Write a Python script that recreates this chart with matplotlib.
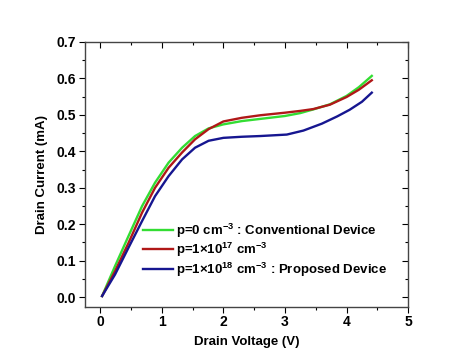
import matplotlib
matplotlib.use("Agg")
import matplotlib.pyplot as plt
from matplotlib.ticker import MultipleLocator

# ============================================
# Data
# ============================================

green_v = [0.03, 0.24, 0.46, 0.68, 0.89, 1.11, 1.33, 1.54, 1.76, 2.00, 2.30, 2.60, 3.00, 3.25, 3.46, 3.73, 4.00, 4.20, 4.41]
green_i = [0.003, 0.085, 0.168, 0.250, 0.314, 0.369, 0.410, 0.442, 0.463, 0.474, 0.483, 0.489, 0.497, 0.505, 0.515, 0.529, 0.552, 0.576, 0.607]

red_v = [0.03, 0.24, 0.46, 0.68, 0.89, 1.11, 1.33, 1.54, 1.76, 2.00, 2.30, 2.60, 3.00, 3.25, 3.46, 3.73, 4.00, 4.20, 4.41]
red_i = [0.003, 0.071, 0.149, 0.232, 0.300, 0.355, 0.397, 0.433, 0.461, 0.482, 0.492, 0.499, 0.506, 0.511, 0.516, 0.528, 0.549, 0.569, 0.595]

blue_v = [0.03, 0.24, 0.46, 0.68, 0.89, 1.11, 1.33, 1.54, 1.76, 2.00, 2.30, 2.60, 3.03, 3.30, 3.60, 3.85, 4.05, 4.25, 4.41]
blue_i = [0.003, 0.062, 0.136, 0.209, 0.277, 0.332, 0.378, 0.410, 0.429, 0.437, 0.440, 0.442, 0.446, 0.457, 0.476, 0.496, 0.514, 0.536, 0.561]

labels = [
    r"p=0 cm$^{\mathbf{-3}}$ : Conventional Device",
    r"p=1×10$^{\mathbf{17}}$ cm$^{\mathbf{-3}}$",
    r"p=1×10$^{\mathbf{18}}$ cm$^{\mathbf{-3}}$ : Proposed Device",
]

# ============================================
# Plot
# ============================================

plt.rcParams["font.family"] = ["Liberation Sans", "DejaVu Sans"]
plt.rcParams["font.weight"] = "bold"
plt.rcParams["mathtext.fontset"] = "custom"
plt.rcParams["mathtext.rm"] = "Liberation Sans"
plt.rcParams["mathtext.bf"] = "Liberation Sans:bold"
plt.rcParams["mathtext.default"] = "bf"
plt.rcParams["axes.unicode_minus"] = False

fig = plt.figure(figsize=(4.74, 3.62), dpi=100)
ax = fig.add_axes([0.179, 0.152, 0.682, 0.732])

ax.plot(green_v, green_i, color="#33dd33", lw=1.7, label=labels[0])
ax.plot(red_v, red_i, color="#b01818", lw=1.7, label=labels[1])
ax.plot(blue_v, blue_i, color="#161690", lw=1.7, label=labels[2])

ax.set_xlim(-0.25, 5)
ax.set_ylim(-0.027, 0.7)
ax.xaxis.set_major_locator(MultipleLocator(1))
ax.xaxis.set_minor_locator(MultipleLocator(0.5))
ax.yaxis.set_major_locator(MultipleLocator(0.1))
ax.yaxis.set_minor_locator(MultipleLocator(0.05))
ax.yaxis.set_major_formatter(plt.FormatStrFormatter("%.1f"))

ax.tick_params(which="both", direction="out", top=False, right=False, labelsize=10, width=0.8)
ax.tick_params(axis="x", pad=2)
ax.tick_params(axis="y", pad=2.5)
ax.tick_params(which="major", length=4)
ax.tick_params(which="minor", length=2.5)

# mirrored inward ticks on top/right
secx = ax.secondary_xaxis("top")
secx.xaxis.set_major_locator(MultipleLocator(1))
secx.xaxis.set_minor_locator(MultipleLocator(0.5))
secx.tick_params(which="both", direction="in", labeltop=False, width=0.8)
secx.tick_params(which="major", length=4)
secx.tick_params(which="minor", length=2.5)
secy = ax.secondary_yaxis("right")
secy.yaxis.set_major_locator(MultipleLocator(0.1))
secy.yaxis.set_minor_locator(MultipleLocator(0.05))
secy.tick_params(which="both", direction="in", labelright=False, width=0.8)
secy.tick_params(which="major", length=4)
secy.tick_params(which="minor", length=2.5)

for sp in ax.spines.values():
    sp.set_color("#444444")
    sp.set_linewidth(1.0)
for sec in (secx, secy):
    for sp in sec.spines.values():
        sp.set_visible(False)

ax.set_xlabel("Drain Voltage (V)", fontsize=9.5, fontweight="bold", labelpad=5)
ax.set_ylabel("Drain Current (mA)", fontsize=9.5, fontweight="bold", labelpad=6)

ax.legend(loc="center left", bbox_to_anchor=(0.18, 0.215), frameon=False,
          prop={"size": 9.5, "weight": "bold"}, handlelength=2.3,
          handletextpad=0.2, labelspacing=0.1, borderaxespad=0, borderpad=0)

fig.savefig("out.png", dpi=100)
